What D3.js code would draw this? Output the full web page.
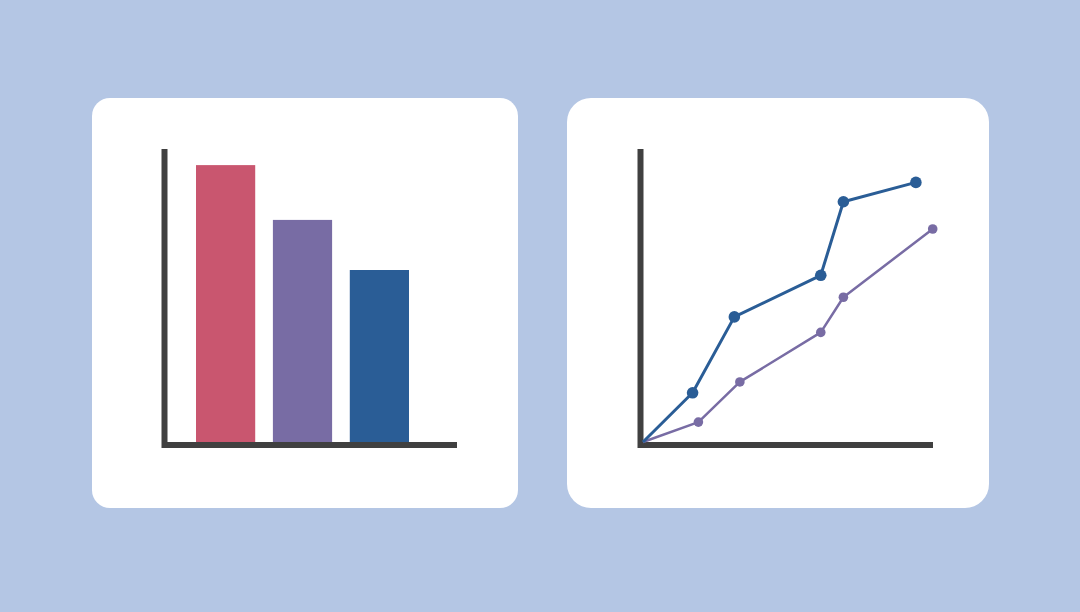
<!DOCTYPE html>
<html>
<head>
<meta charset="utf-8">
<script src="https://cdn.jsdelivr.net/npm/d3@7"></script>
<style>
  html, body { margin: 0; padding: 0; background: #b4c6e4; }
  svg { display: block; }
</style>
</head>
<body>
<svg id="chart" width="1080" height="612"></svg>
<script>
// Bar chart data
const barCategories = ['A', 'B', 'C'];
const barValues = [94.5, 75.8, 58.7];
const barColors = ['#c9566f', '#786ca4', '#2a5d96'];

// Line chart data (x, y pairs on a 0-10 grid)
const blueX = [0, 1.71, 3.15, 6.13, 6.91, 9.41];
const blueY = [0, 1.68, 4.27, 5.69, 8.20, 8.86];
const purpleX = [0, 1.91, 3.34, 6.13, 6.91, 9.99];
const purpleY = [0, 0.68, 2.05, 3.74, 4.94, 7.27];

const svg = d3.select('#chart');
const axisColor = '#404040';

svg.append('rect')
    .attr('width', 1080).attr('height', 612)
    .style('fill', '#b4c6e4');

// cards
svg.append('rect')
    .attr('x', 92).attr('y', 98).attr('width', 426).attr('height', 410)
    .attr('rx', 18)
    .style('fill', '#fff');
svg.append('rect')
    .attr('x', 567).attr('y', 98).attr('width', 422).attr('height', 410)
    .attr('rx', 24)
    .style('fill', '#fff');

// 1. Bar chart
const xBand = d3.scaleBand()
    .domain(barCategories)
    .range([196, 409])
    .paddingInner(0.23)
    .paddingOuter(0);

const yBar = d3.scaleLinear()
    .domain([0, 100])
    .range([442, 149]);

svg.selectAll('rect.bar')
    .data(barValues)
    .enter()
    .append('rect')
    .attr('class', 'bar')
    .attr('x', (d, i) => xBand(barCategories[i]))
    .attr('y', d => yBar(d))
    .attr('width', xBand.bandwidth())
    .attr('height', d => yBar(0) - yBar(d))
    .style('fill', (d, i) => barColors[i]);

// bar axes
svg.append('path')
    .attr('d', `M ${164.5} ${yBar(100)} L ${164.5} ${yBar(0) + 3} L 457 ${yBar(0) + 3}`)
    .style('fill', 'none')
    .style('stroke', axisColor)
    .style('stroke-width', 6);

// 2. Line chart
const xLin = d3.scaleLinear().domain([0, 10]).range([643, 933]);
const yLin = d3.scaleLinear().domain([0, 10]).range([442, 149]);

svg.append('path')
    .attr('d', `M ${640.5} ${yLin(10)} L ${640.5} ${yLin(0) + 3} L ${xLin(10)} ${yLin(0) + 3}`)
    .style('fill', 'none')
    .style('stroke', axisColor)
    .style('stroke-width', 6);

const line = d3.line()
    .x(d => xLin(d[0]))
    .y(d => yLin(d[1]));

const series = [
    { xs: purpleX, ys: purpleY, color: '#786ca4', width: 2.5, r: 4.8 },
    { xs: blueX, ys: blueY, color: '#2a5d96', width: 3, r: 5.8 }
];

series.forEach(s => {
    const pts = s.xs.map((x, i) => [x, s.ys[i]]);
    svg.append('path')
        .attr('d', line(pts))
        .style('fill', 'none')
        .style('stroke', s.color)
        .style('stroke-width', s.width)
        .style('stroke-linejoin', 'round');
    svg.selectAll(null)
        .data(pts.slice(1))
        .enter()
        .append('circle')
        .attr('cx', d => xLin(d[0]))
        .attr('cy', d => yLin(d[1]))
        .attr('r', s.r)
        .style('fill', s.color);
});
</script>
</body>
</html>
